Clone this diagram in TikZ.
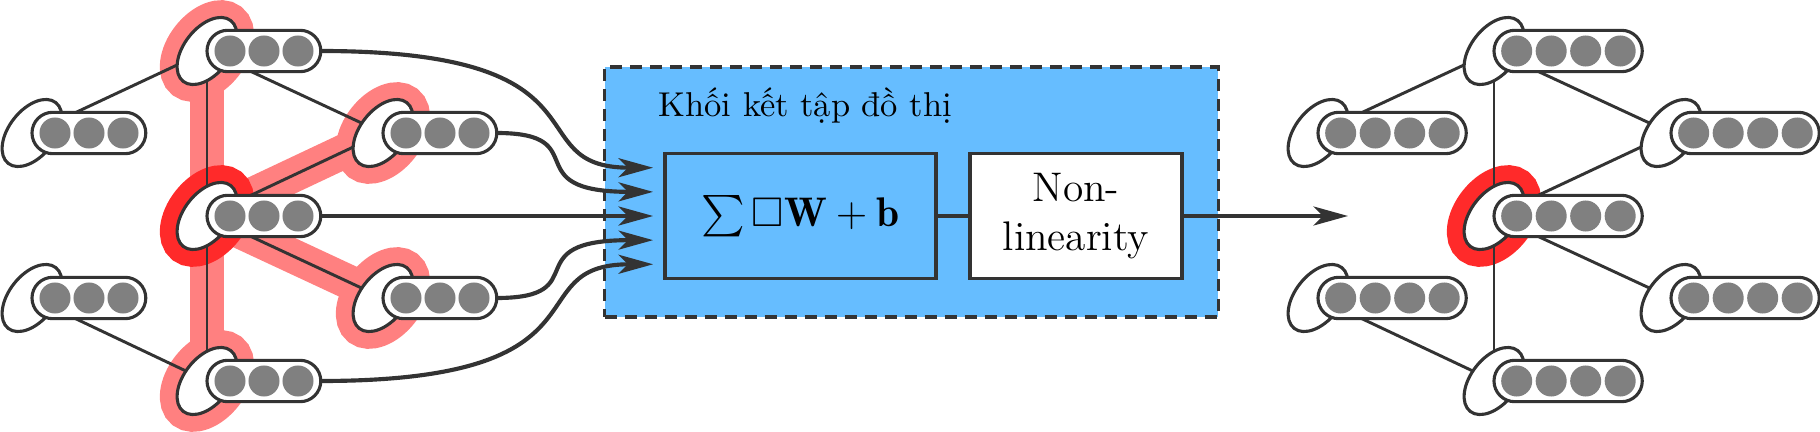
\documentclass[tikz,border=0pt]{standalone}
\usepackage{amssymb}
\usepackage{fontspec}
\usetikzlibrary{arrows.meta}

\definecolor{linec}{HTML}{333333}
\definecolor{dotc}{HTML}{808080}
\definecolor{blockc}{HTML}{66BDFF}
\definecolor{haloc}{HTML}{FF8080}
\definecolor{ringc}{HTML}{FF2A2A}

\tikzset{
	link/.style={draw=linec, line width=0.85pt},
	hl/.style={draw=haloc, line width=10pt},
	ringed/.style={draw=ringc, line width=10pt},
	oval/.style={x radius=38.6, y radius=23},
	blob/.style={draw=linec, fill=white, line width=0.9pt},
	pill/.style={draw=linec, fill=white, line width=0.9pt, rounded corners=6pt,
		minimum height=12pt, inner sep=0pt, outer sep=0pt, anchor=west},
	dot/.style={fill=dotc},
	flow/.style={draw=linec, line width=1.2pt,
		-{Stealth[length=10pt,width=5.5pt,inset=2.7pt]}},
	box/.style={draw=linec, line width=0.9pt, minimum height=36pt,
		inner sep=2pt, font=\large, align=center}
}

\begin{document}
\begin{tikzpicture}[x=0.29pt, y=0.29pt]

		\useasboundingbox (0,0) rectangle (1820,432);

		\foreach \n/\x/\y in {i1/207/381, i2/32/299, i3/383/299, i4/207/216,
				i5/32/134, i6/383/134, i7/207/51,
				o1/1494/381, o2/1318/299, o3/1671/299, o4/1494/216,
				o5/1318/134, o6/1671/134, o7/1494/51}
			\coordinate (\n) at (\x,\y);

		\foreach \n in {i1,i3,i6,i7}
		{
			\draw[hl] (i4) -- (\n);
			\draw[hl, shift={(\n)}, rotate=52] (0,0) ellipse [oval];
		}
		\foreach \n in {i4,o4}
			\draw[ringed, shift={(\n)}, rotate=52] (0,0) ellipse [oval];

		\foreach \a/\b in {i2/i1, i1/i3, i1/i4, i4/i3, i4/i6, i4/i7, i5/i7,
				o2/o1, o1/o3, o1/o4, o4/o3, o4/o6, o4/o7, o5/o7}
			\draw[link] (\a) -- (\b);

		\foreach \n in {i1,i2,i3,i4,i5,i6,i7,o1,o2,o3,o4,o5,o6,o7}
			\draw[blob, shift={(\n)}, rotate=52] (0,0) ellipse [oval];

		\foreach \n in {i1,i2,i3,i4,i5,i6,i7}
		{
			\node[pill, minimum width=33pt] (f\n) at (\n) {};
			\foreach \k in {0,1,2}
				\fill[dot, shift={(\n)}] (23+34*\k,0) circle (4.5pt);
		}
		\foreach \n in {o1,o2,o3,o4,o5,o6,o7}
		{
			\node[pill, minimum width=43pt] (f\n) at (\n) {};
			\foreach \k in {0,1,2,3}
				\fill[dot, shift={(\n)}] (22.7+34.5*\k,0) circle (4.5pt);
		}

		\node[draw=linec, dash pattern=on 3.5pt off 2.3pt, line width=0.9pt, fill=blockc,
			inner sep=0pt, minimum width=178pt, minimum height=72.5pt] (blk) at (911.5,240) {};
		\node[anchor=base west, inner sep=0pt] (lbl) at (658,315) {Khối kết tập đồ thị};
		\node[box, minimum width=78.6pt] (agg) at (800.5,216)
			{$\sum \Box\mathbf{W} + \mathbf{b}$};
		\node[box, fill=white, minimum width=61.5pt] (nl) at (1076,216) {Non-\\linearity};
		\draw[link, line width=1.2pt] (agg) -- (nl);

		\draw[flow, shorten >=3pt] (fi1.east) .. controls +(300,0) and +(-150,0) .. ([yshift=14pt]agg.west);
		\draw[flow, shorten >=3pt] (fi3.east) .. controls +(100,0) and +(-150,0) .. ([yshift=7pt]agg.west);
		\draw[flow, shorten >=3pt] (fi4) -- (agg);
		\draw[flow, shorten >=3pt] (fi6.east) .. controls +(100,0) and +(-150,0) .. ([yshift=-7pt]agg.west);
		\draw[flow, shorten >=3pt] (fi7.east) .. controls +(300,0) and +(-150,0) .. ([yshift=-14pt]agg.west);

		\coordinate (res) at (1348,216);
		\draw[flow] (nl) -- (res);

	\end{tikzpicture}
\end{document}
